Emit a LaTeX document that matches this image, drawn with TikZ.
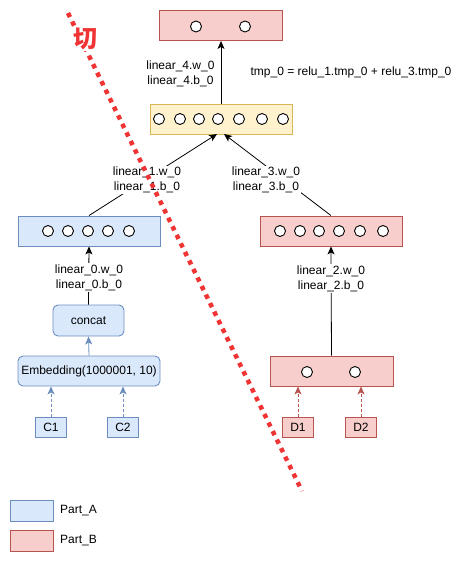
\documentclass[tikz,border=0pt]{standalone}
\usepackage{fontspec}
\setmainfont{Liberation Sans}
\newfontfamily\cjkfont{Noto Sans CJK SC}
\usetikzlibrary{arrows.meta}
\definecolor{blueF}{HTML}{DAE8FC}
\definecolor{blueD}{HTML}{6C8EBF}
\definecolor{redF}{HTML}{F8CECC}
\definecolor{redD}{HTML}{B85450}
\definecolor{yelF}{HTML}{FFF2CC}
\definecolor{yelD}{HTML}{D6B656}
\definecolor{cutred}{HTML}{F03333}
\begin{document}
\begin{tikzpicture}[x=1pt,y=-1pt,
  font=\fontsize{12}{15}\selectfont,
  box/.style={draw, line width=0.9pt, inner sep=0pt, minimum height=30},
  abox/.style={box, draw=blueD, fill=blueF},
  bbox/.style={box, draw=redD, fill=redF},
  ybox/.style={box, draw=yelD, fill=yelF},
  inbox/.style={line width=0.9pt, inner sep=0pt, minimum width=31, minimum height=20},
  dot/.style={circle, draw, fill=white, minimum size=11, inner sep=0pt, line width=0.9pt},
  lbl/.style={fill=white, align=center, inner sep=1pt},
  arr/.style={-{Stealth[length=8pt,width=7pt,inset=2pt]}, line width=0.8pt},
  darr/.style={arr, dashed, dash pattern=on 3pt off 2pt},
]
\useasboundingbox (0,0) rectangle (474,562);

% boxes
\node[bbox, minimum width=123] (top) at (220.5,25.5) {};
\node[ybox, minimum width=142] (mid) at (221,119) {};
\node[abox, minimum width=142] (la) at (89,231) {};
\node[bbox, minimum width=142] (lb) at (331,231) {};
\node[abox, minimum width=71, minimum height=31, rounded corners=5pt] (cat) at (88.5,320.5) {concat};
\node[abox, minimum width=142, rounded corners=5pt] (emb) at (89,371) {Embedding(1000001, 10)};
\node[bbox, minimum width=123] (inb) at (331.5,371) {};
\node[inbox, draw=blueD, fill=blueF] (c1) at (51,427) {C1};
\node[inbox, draw=blueD, fill=blueF] (c2) at (123,427) {C2};
\node[inbox, draw=redD, fill=redF] (d1) at (298,427) {D1};
\node[inbox, draw=redD, fill=redF] (d2) at (361,427) {D2};

% neurons
\foreach \x in {196,245} \node[dot] at (\x,26.5) {};
\foreach \x in {159,180,199,218,239,262,283} \node[dot] at (\x,119) {};
\foreach \x in {48,68,88,108,129} \node[dot] at (\x,231) {};
\foreach \x in {280,300,319,339,360,383} \node[dot] at (\x,231) {};
\foreach \x in {307,355} \node[dot] at (\x,372) {};

% connectors
\coordinate (m1) at (217,134);
\coordinate (m2) at (224,134);
\draw[arr] (la.north) -- (m1);
\draw[arr] (lb.north) -- (m2);
\draw[arr] (221,104) coordinate (mt) -- (mt |- top.south);
\draw[arr] (cat.north) -- (la.south);
\draw[arr] (inb.north) -- (lb.south);
\draw[arr, draw=blueD] (emb.north) -- (cat.south);
\draw[darr, draw=blueD] (c1.north) -- (c1.north |- emb.south);
\draw[darr, draw=blueD] (c2.north) -- (c2.north |- emb.south);
\draw[darr, draw=redD] (d1.north) -- (d1.north |- inb.south);
\draw[darr, draw=redD] (d2.north) -- (d2.north |- inb.south);

% labels
\node[align=center, inner sep=1pt] (l4) at (180.5,73.5) {linear\_4.w\_0\\linear\_4.b\_0};
\node[lbl] (l1) at (147,180) {linear\_1.w\_0\\linear\_1.b\_0};
\node[lbl] (l3) at (266,180) {linear\_3.w\_0\\linear\_3.b\_0};
\node[lbl] (l0) at (89,277.5) {linear\_0.w\_0\\linear\_0.b\_0};
\node[lbl] (l2) at (331,278.5) {linear\_2.w\_0\\linear\_2.b\_0};
\node (tmp) at (351,72) {tmp\_0 = relu\_1.tmp\_0 + relu\_3.tmp\_0};

% cut line
\coordinate (cs) at (68,13);
\coordinate (ce) at (302,491);
\draw[cutred, line width=4.5pt, dash pattern=on 4.5pt off 5pt] (cs) -- (ce);
\node[fill=white, text=cutred, inner sep=1pt, font=\cjkfont\bfseries\fontsize{24}{24}\selectfont] (cut) at (85,39) {切};

% legend
\node[abox, minimum width=43, minimum height=21] (ka) at (31.5,510.5) {};
\node[bbox, minimum width=43, minimum height=21] (kb) at (31.5,541) {};
\node[anchor=west, inner sep=0pt] (ta) at (60,510.5) {Part\_A};
\node[anchor=west, inner sep=0pt] (tb) at (60,541) {Part\_B};
\end{tikzpicture}
\end{document}
